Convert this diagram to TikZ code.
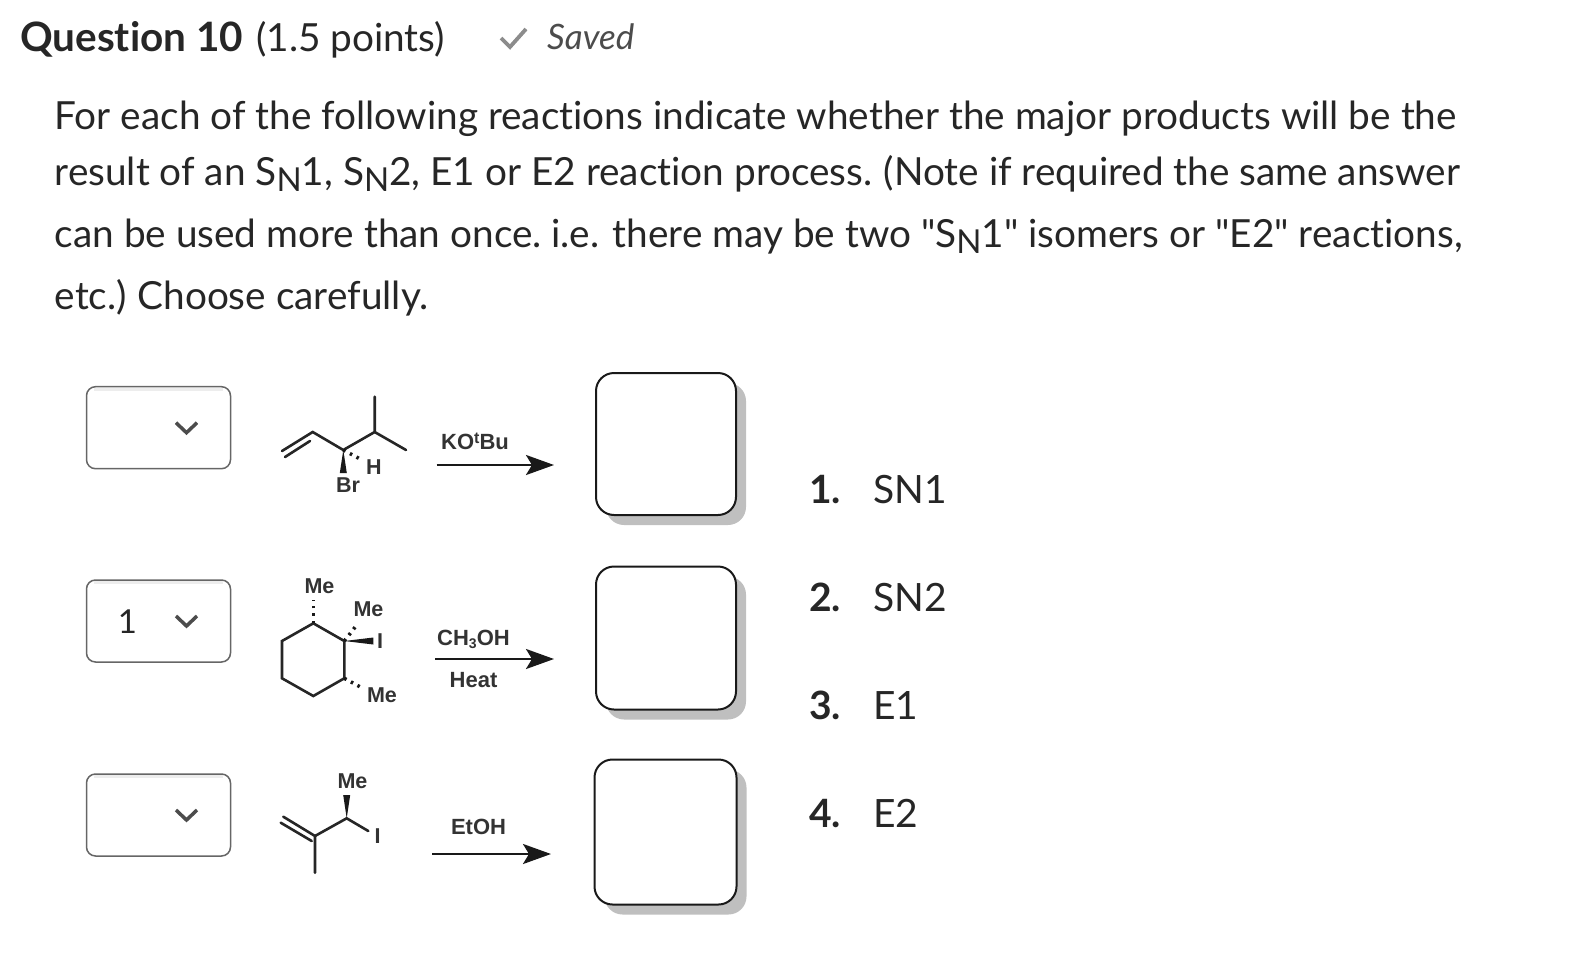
\documentclass[tikz,border=0pt]{standalone}
\usepackage{fontspec}
\setmainfont{Lato}[Ligatures={TeXOff,NoCommon}]
\newfontfamily\chemfont{Liberation Sans}
\usetikzlibrary{arrows.meta,positioning,shadows}
\tikzstyle{body}=[anchor=base west,inner sep=0pt,text=black!85,font=\fontsize{38.75}{38.75}\selectfont]
\tikzstyle{answer}=[anchor=base west,inner sep=0pt,text=black!85,font=\fontsize{39}{39}\selectfont]
\tikzstyle{dropbox}=[draw=black!60,line width=1.5pt,rounded corners=9pt,minimum width=144pt,minimum height=82pt]
\tikzstyle{chevron}=[draw=black!70,line width=3.5pt]
\tikzstyle{dropline}=[draw=black!7,line width=3pt]
\tikzstyle{slot}=[draw=black!90,fill=white,line width=2pt,rounded corners=18pt,copy shadow={shadow xshift=10pt,shadow yshift=-10pt,fill=black!25,draw=none}]
\tikzstyle{atom}=[inner sep=0pt,text=black!80,font=\chemfont\bfseries\fontsize{21.5}{21.5}\selectfont]
\tikzstyle{reagent}=[inner sep=0pt,text=black!80,font=\chemfont\bfseries\fontsize{22}{22}\selectfont]
\tikzstyle{bond}=[draw=black!85,line width=2.6pt,line cap=round]
\tikzstyle{wedge}=[fill=black!90]
\tikzstyle{hashbond}=[draw=black!90,line width=3.5pt,dash pattern=on 2.5pt off 5pt]
\tikzstyle{post}=[draw=black!90,line width=2.6pt,-{Stealth[length=28pt,width=20pt,inset=6pt]}]
\newcommand{\subN}{\raisebox{-6pt}{\fontsize{33}{33}\selectfont N}}
\begin{document}
\begin{tikzpicture}[x=1pt,y=-1pt]
    \useasboundingbox (0,0) rectangle (1580,964);

    % header
    \node[body,font=\fontsize{40.5}{40.5}\selectfont\bfseries] (qtitle) at (20,51) {Question 10};
    \node[body] (qpoints) at (256,51) {(1.5 points)};
    \coordinate (c1) at (501,38);
    \coordinate (c2) at (510,47);
    \coordinate (c3) at (526,29);
    \draw[black!45,line width=3.8pt] (c1) -- (c2) -- (c3);
    \node[body,text=black!70,font=\fontsize{35}{35}\selectfont\itshape] (saved) at (547,49) {Saved};

    % question text
    \node[body] (l1) at (54.5,129) {For each of the following reactions indicate whether the major products will be the};
    \node[body] (l2) at (54.5,185) {result of an S\subN 1, S\subN 2, E1 or E2 reaction process.\kern-2pt{} (Note if required the same answer};
    \node[body] (l3) at (54.5,247) {can be used more than once.\kern-3.5pt{} i.e. there may be two "S\subN 1" isomers or "E2" reactions,};
    \node[body] (l4) at (54.5,309) {etc.)\kern-2.5pt{} Choose carefully.};

    % dropdowns
    \foreach \name/\ypos/\val in {d1/427.7/,d2/621/1,d3/815/} {
        \node[dropbox] (\name) at (158.5,\ypos) {};
        \draw[dropline] ([shift={(8pt,-3.5pt)}]\name.north west) -- ([shift={(-8pt,-3.5pt)}]\name.north east);
        \draw[chevron] ([shift={(17.5pt,5pt)}]\name.center) -- ([shift={(28pt,-5pt)}]\name.center) -- ([shift={(38.5pt,5pt)}]\name.center);
        \node[body,anchor=base,font=\fontsize{33}{33}\selectfont] (\name v) at ([shift={(-31pt,-12.5pt)}]\name.center) {\val};
    }

    % answer slots
    \node[slot,minimum width=140pt,minimum height=142pt] (s1) at (666,444) {};
    \node[slot,minimum width=140pt,minimum height=143pt] (s2) at (666,638) {};
    \node[slot,minimum width=142pt,minimum height=145pt] (s3) at (665.5,832) {};

    % answer list
    \foreach \name/\ypos/\num/\txt in {a1/503/1/SN1,a2/611/2/SN2,a3/719/3/E1,a4/827/4/E2} {
        \node[answer,font=\fontsize{39}{39}\selectfont\bfseries] (\name n) at (809,\ypos) {\num.};
        \node[answer] (\name t) at (873,\ypos) {\txt};
    }

    % first molecule
    \coordinate (m1a) at (282,451);
    \coordinate (m1b) at (312.7,432);
    \coordinate (m1c) at (285,457);
    \coordinate (m1d) at (310,441);
    \coordinate (m1e) at (343.3,450);
    \coordinate (m1f) at (374.7,432);
    \coordinate (m1g) at (374.7,396.7);
    \coordinate (m1h) at (406,450);
    \coordinate (m1i) at (362,460);
    \coordinate (m1j) at (343.3,473);
    \draw[bond] (m1a) -- (m1b) -- (m1e) -- (m1f) -- (m1g);
    \draw[bond] (m1c) -- (m1d);
    \draw[bond] (m1f) -- (m1h);
    \fill[wedge] (m1e) -- ([xshift=3.5pt]m1j) -- ([xshift=-3.5pt]m1j) -- cycle;
    \draw[hashbond] (m1e) -- (m1i);
    \node[atom] (m1H) at (374,467) {H};
    \node[atom] (m1Br) at (348,485) {Br};
    \node[reagent] (r1) at (475,441) {KO\raisebox{6pt}{\fontsize{16}{16}\selectfont t}Bu};
    \coordinate (r1a) at (436.7,465);
    \coordinate (r1b) at (554,465);
    \draw[post] (r1a) -- (r1b);

    % second molecule
    \coordinate (m2a) at (313.3,623.3);
    \coordinate (m2b) at (344.3,641);
    \coordinate (m2c) at (344.3,678.3);
    \coordinate (m2d) at (313.3,696);
    \coordinate (m2e) at (282,678.3);
    \coordinate (m2f) at (282,641);
    \coordinate (m2g) at (313.3,600);
    \coordinate (m2h) at (356,626);
    \coordinate (m2i) at (373.3,641);
    \coordinate (m2j) at (364,689);
    \draw[bond] (m2a) -- (m2b) -- (m2c) -- (m2d) -- (m2e) -- (m2f) -- cycle;
    \draw[hashbond] (m2a) -- (m2g);
    \draw[hashbond] (m2b) -- (m2h);
    \draw[hashbond] (m2c) -- (m2j);
    \fill[wedge] (m2b) -- ([yshift=3.5pt]m2i) -- ([yshift=-3.5pt]m2i) -- cycle;
    \node[atom] (m2Me) at (319.5,586.5) {Me};
    \node[atom] (m2Meb) at (368.5,609.5) {Me};
    \node[atom] (m2I) at (380,641) {I};
    \node[atom] (m2Mec) at (382,695) {Me};
    \node[reagent] (r2) at (473.5,639) {CH\raisebox{-3pt}{\fontsize{14}{14}\selectfont 3}OH};
    \node[reagent] (r2b) at (473.5,680.5) {Heat};
    \coordinate (r2a) at (435,659);
    \coordinate (r2c) at (554,659);
    \draw[post] (r2a) -- (r2c);

    % third molecule
    \coordinate (m3a) at (283.3,816.7);
    \coordinate (m3b) at (315,836);
    \coordinate (m3c) at (280.7,822.7);
    \coordinate (m3d) at (311.7,841);
    \coordinate (m3e) at (315,872.7);
    \coordinate (m3f) at (346.7,818.3);
    \coordinate (m3g) at (346.7,795);
    \coordinate (m3h) at (368.3,831);
    \draw[bond] (m3a) -- (m3b) -- (m3e);
    \draw[bond] (m3c) -- (m3d);
    \draw[bond] (m3b) -- (m3f) -- (m3h);
    \fill[wedge] (m3f) -- ([xshift=3.5pt]m3g) -- ([xshift=-3.5pt]m3g) -- cycle;
    \node[atom] (m3Me) at (352.5,781.5) {Me};
    \node[atom] (m3I) at (377.5,836) {I};
    \node[reagent] (r3) at (478.5,827) {EtOH};
    \coordinate (r3a) at (432,854);
    \coordinate (r3b) at (551,854);
    \draw[post] (r3a) -- (r3b);
\end{tikzpicture}
\end{document}
